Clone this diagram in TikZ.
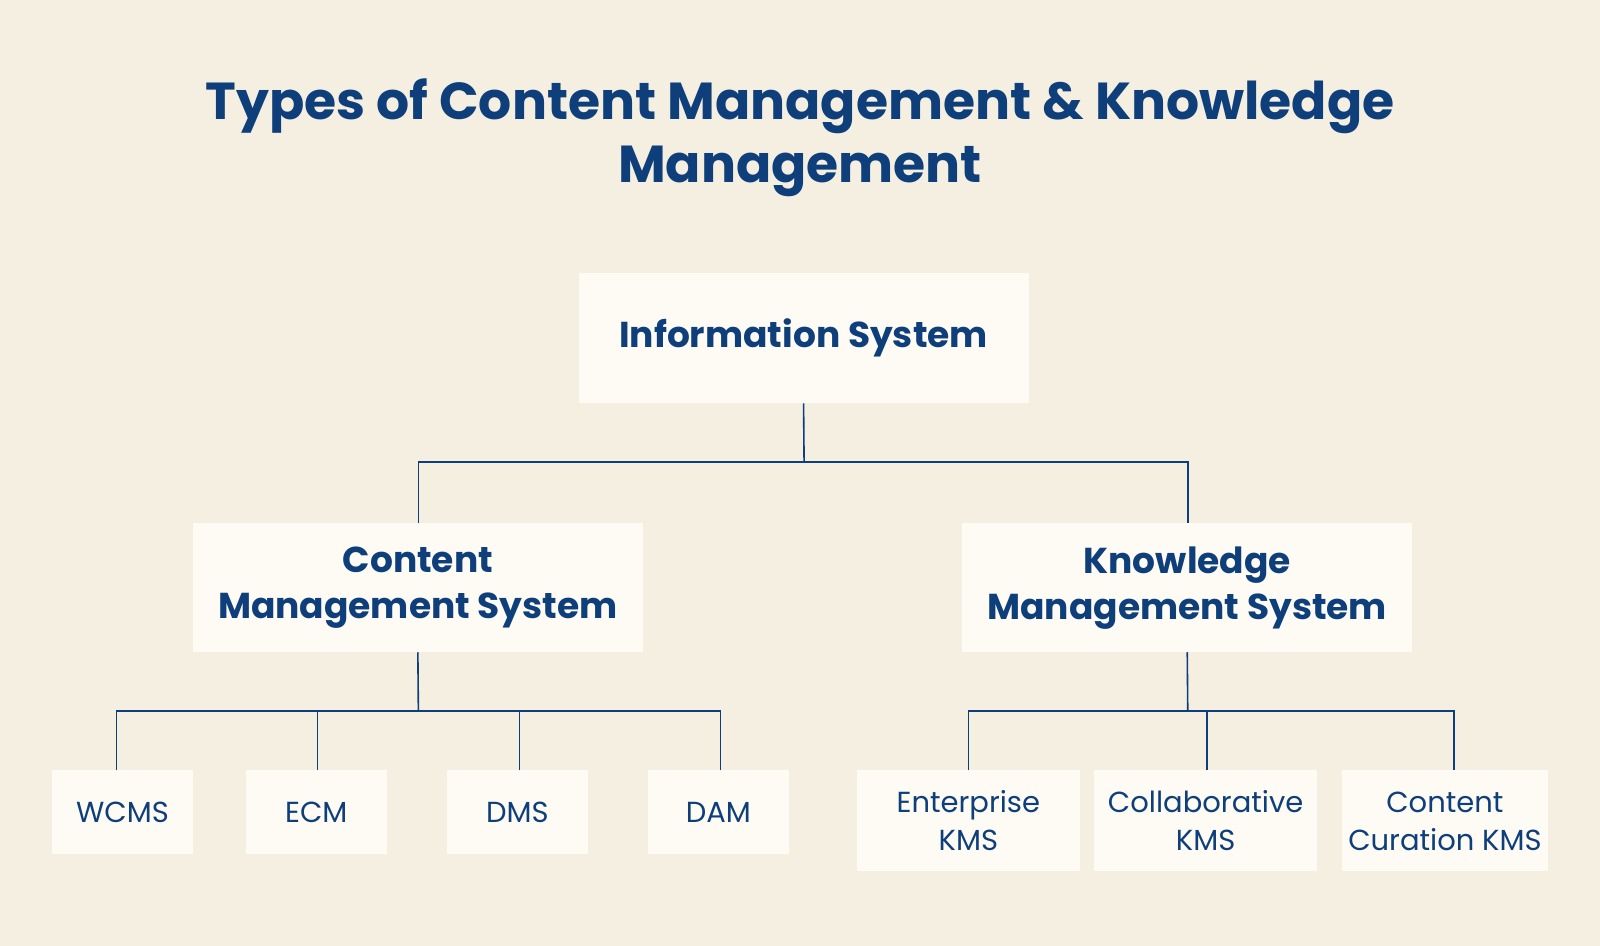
\documentclass[tikz,border=0pt]{standalone}
\usepackage{fontspec}
\setmainfont{Poppins}
\definecolor{bg}{HTML}{F4EFE0}
\definecolor{boxc}{HTML}{FDFBF3}
\definecolor{ink}{HTML}{0E3F7B}
\begin{document}
\begin{tikzpicture}[x=1.0204pt,y=-1.0204pt,
  box/.style={fill=boxc,draw=none,text=ink,align=center,inner sep=0pt},
  big/.style={box,font=\fontsize{36}{46}\selectfont\bfseries},
  small/.style={box,font=\fontsize{29}{38}\selectfont},
  conn/.style={draw=ink,line width=1.6pt}]
\fill[bg] (0,0) rectangle (1568,927);
\useasboundingbox (0,0) rectangle (1568,927);
\node[text=ink,align=center,font=\fontsize{52}{63}\selectfont\bfseries] (title) at (784,135) {Types of Content Management \& Knowledge\\Management};
\node[box,minimum width=441*1.0204pt,minimum height=127*1.0204pt] (is) at (787.5,331.5) {};
\node[big] at (is) {Information System};
\node[box,minimum width=441*1.0204pt,minimum height=126*1.0204pt] (cms) at (409.5,576) {};
\node[big] at (cms) {Content\\Management System};
\node[box,minimum width=441*1.0204pt,minimum height=126*1.0204pt] (kms) at (1163.5,576) {};
\node[big] at (kms) {Knowledge\\Management System};
\foreach \n/\x/\t in {wcms/120/WCMS,ecm/310/ECM,dms/507/DMS,dam/704/DAM}
  \node[small,minimum width=138*1.0204pt,minimum height=82*1.0204pt] (\n) at (\x,796) {\t};
\node[small,minimum width=218*1.0204pt,minimum height=99*1.0204pt] (ent) at (949,804.5) {Enterprise\\KMS};
\node[small,minimum width=219*1.0204pt,minimum height=99*1.0204pt] (col) at (1181.5,804.5) {Collaborative\\KMS};
\node[small,minimum width=202*1.0204pt,minimum height=99*1.0204pt] (cur) at (1416,804.5) {Content\\Curation KMS};
\coordinate (j1) at (788,453);
\coordinate (j2) at (410,697);
\coordinate (j3) at (1164,697);
\draw[conn] (is.south) -- (j1);
\draw[conn] (410,513) |- (j1) -| (1164,513);
\draw[conn] (cms.south) -- (j2);
\draw[conn] (114,755) |- (j2) -| (706,755);
\draw[conn] (311,697) -- (311,755);
\draw[conn] (509,697) -- (509,755);
\draw[conn] (kms.south) -- (j3);
\draw[conn] (949,755) |- (j3) -| (1425,755);
\draw[conn] (1183,697) -- (1183,755);
\end{tikzpicture}
\end{document}
